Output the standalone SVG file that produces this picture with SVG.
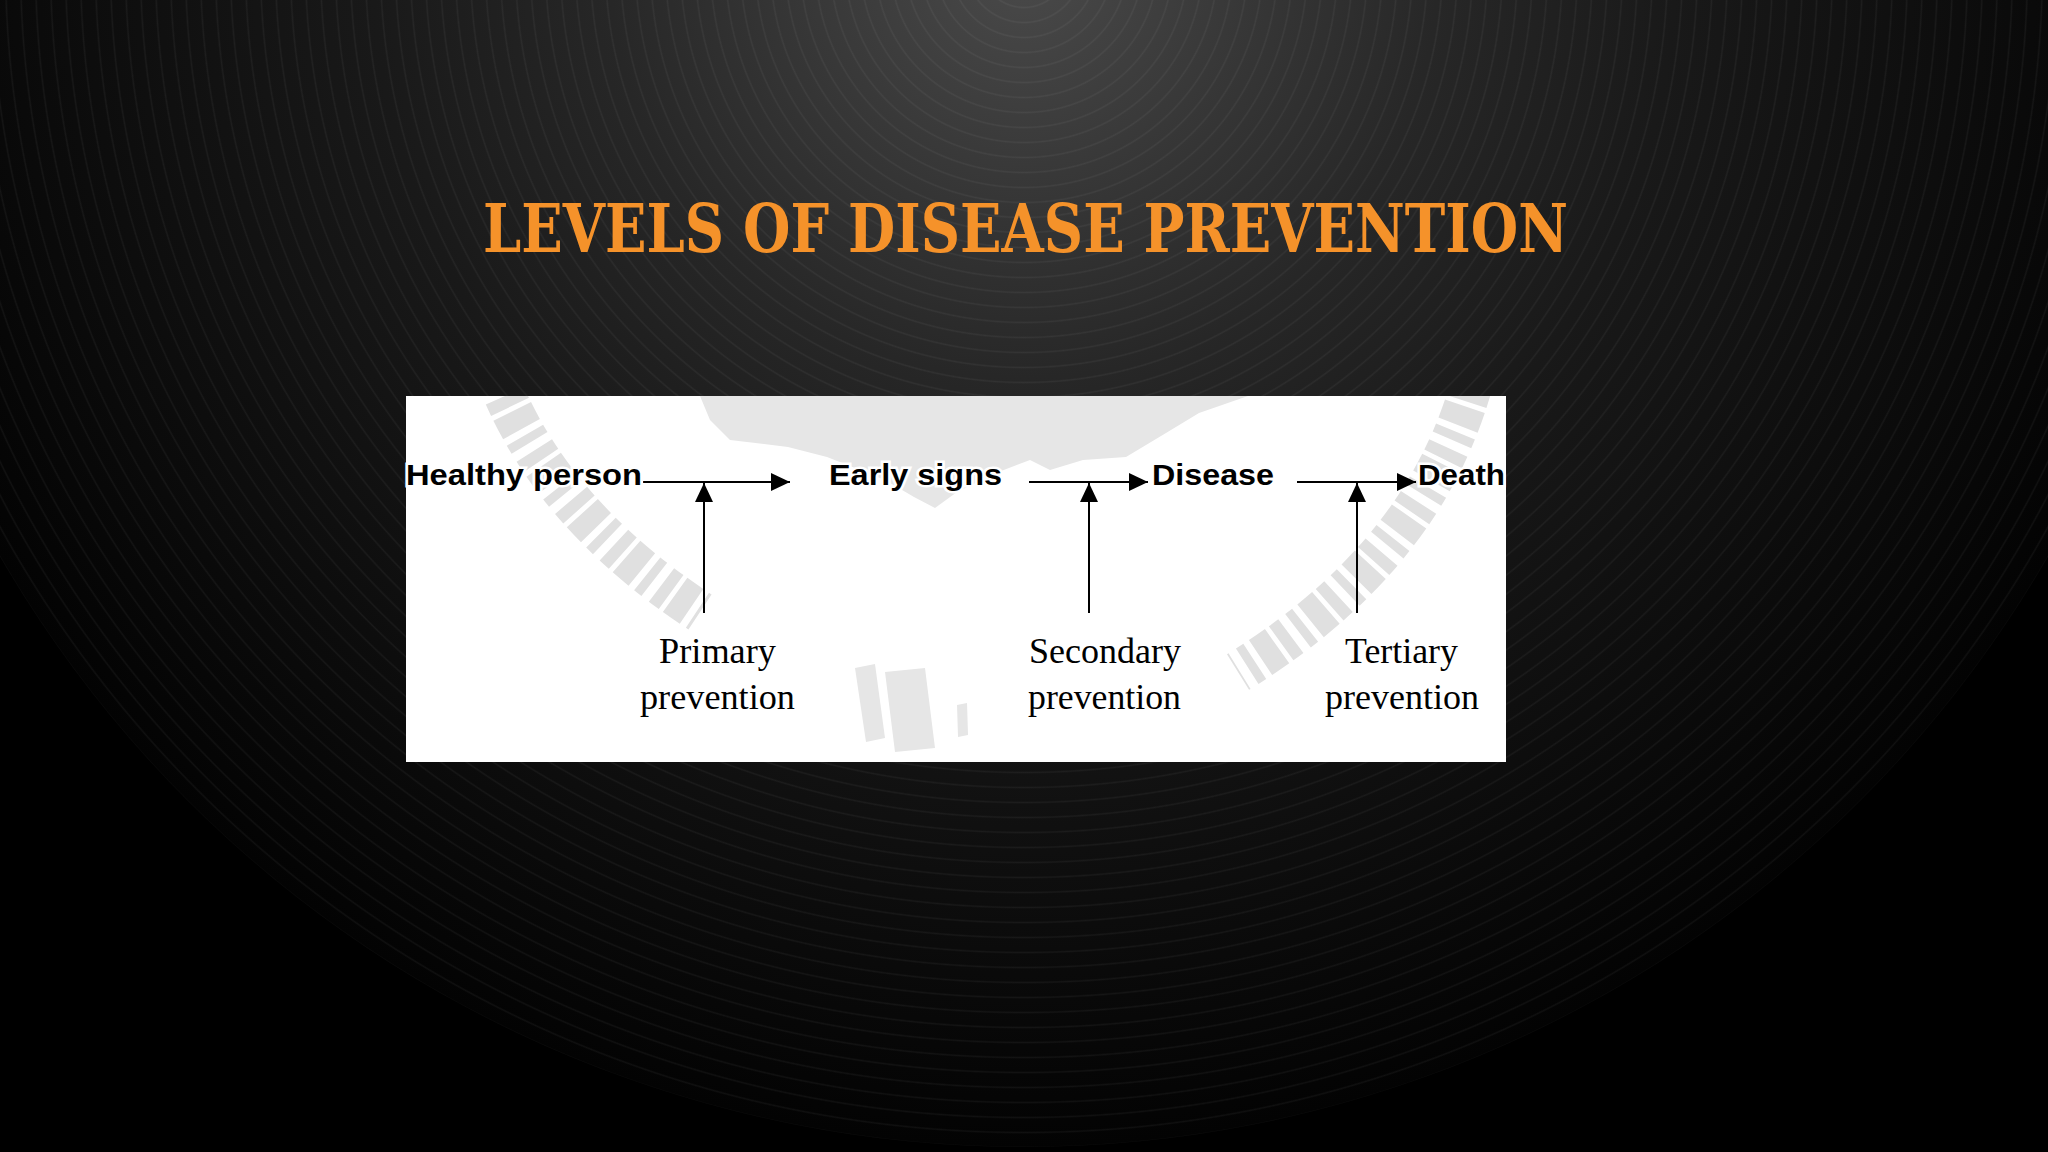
<svg xmlns="http://www.w3.org/2000/svg" width="2048" height="1152" viewBox="0 0 2048 1152">
  <defs>
    <radialGradient id="bgGrad" gradientUnits="userSpaceOnUse" cx="1024" cy="-36" r="1183">
      <stop offset="0" stop-color="#4a4a4a"/>
      <stop offset="0.15" stop-color="#3b3b3b"/>
      <stop offset="0.35" stop-color="#272727"/>
      <stop offset="0.55" stop-color="#191919"/>
      <stop offset="0.75" stop-color="#0f0f0f"/>
      <stop offset="1" stop-color="#030303"/>
    </radialGradient>
    <radialGradient id="rings" gradientUnits="userSpaceOnUse" cx="1024" cy="-36" r="15" spreadMethod="repeat">
      <stop offset="0" stop-color="#ffffff" stop-opacity="0"/>
      <stop offset="0.8" stop-color="#ffffff" stop-opacity="0"/>
      <stop offset="0.9" stop-color="#ffffff" stop-opacity="0.05"/>
      <stop offset="1" stop-color="#ffffff" stop-opacity="0"/>
    </radialGradient>
    <clipPath id="panelClip">
      <rect x="406" y="396" width="1100" height="366"/>
    </clipPath>
    <marker id="arrow" markerUnits="userSpaceOnUse" markerWidth="20" markerHeight="20" refX="19" refY="9" orient="auto" viewBox="0 0 20 18">
      <path d="M0,0 L19,9 L0,18 Z" fill="#000"/>
    </marker>
    <style>
      .title { font-family: "DejaVu Serif", "Liberation Serif", serif; font-weight: bold; font-size: 67px; fill: #F5922A; }
      .state { font-family: "Liberation Sans", Arial, sans-serif; font-weight: bold; font-size: 29px; fill: #000; stroke: #fff; stroke-width: 5px; paint-order: stroke; }
      .level { font-family: "Liberation Serif", "Times New Roman", serif; font-size: 35px; fill: #000; stroke: #fff; stroke-width: 5px; paint-order: stroke; }
      .conn { stroke: #000; stroke-width: 2; fill: none; }
      .wm { fill: #e6e6e6; }
      .wmband { fill: none; stroke: #e0e0e0; stroke-width: 42; stroke-dasharray: 12 5 20 7 9 9; }
    </style>
  </defs>

  <!-- background -->
  <rect x="0" y="0" width="2048" height="1152" fill="#000"/>
  <circle cx="1024" cy="-36" r="1183" fill="url(#bgGrad)"/>
  <circle cx="1024" cy="-36" r="1183" fill="url(#rings)"/>

  <!-- title -->
  <text id="title" class="title" x="483" y="252" textLength="1085" lengthAdjust="spacingAndGlyphs">LEVELS OF DISEASE PREVENTION</text>

  <!-- panel -->
  <rect id="panel" x="406" y="396" width="1100" height="366" fill="#ffffff"/>

  <!-- watermark remnants -->
  <g id="watermark" clip-path="url(#panelClip)">
    <path class="wm" d="M700,396 L710,420 L730,440 L788,447 L827,457 L860,470 L885,480 L914,497 L935,508 L957,492 L996,473 L1030,460 L1050,470 L1083,460 L1126,457 L1166,433 L1199,413 L1248,396 Z"/>
    <path class="wmband" d="M505,396 Q560,520 700,612"/>
    <path class="wmband" d="M1470,390 Q1420,560 1238,672"/>
    <path class="wm" d="M855,668 L875,664 L885,738 L866,742 Z"/>
    <path class="wm" d="M885,672 L925,668 L935,748 L895,752 Z"/>
    <path class="wm" d="M957,705 L967,703 L968,735 L958,737 Z"/>
  </g>

  <!-- connectors -->
  <g id="connectors">
    <line class="conn" x1="643" y1="482" x2="790" y2="482" marker-end="url(#arrow)"/>
    <line class="conn" x1="1029" y1="482" x2="1148" y2="482" marker-end="url(#arrow)"/>
    <line class="conn" x1="1297" y1="482" x2="1416" y2="482" marker-end="url(#arrow)"/>
    <line class="conn" x1="704" y1="613" x2="704" y2="483" marker-end="url(#arrow)"/>
    <line class="conn" x1="1089" y1="613" x2="1089" y2="483" marker-end="url(#arrow)"/>
    <line class="conn" x1="1357" y1="613" x2="1357" y2="483" marker-end="url(#arrow)"/>
  </g>

  <!-- nodes -->
  <g id="node-healthy">
    <text class="state" x="406" y="485" textLength="236" lengthAdjust="spacingAndGlyphs">Healthy person</text>
  </g>
  <g id="node-early">
    <text class="state" x="829" y="485" textLength="173" lengthAdjust="spacingAndGlyphs">Early signs</text>
  </g>
  <g id="node-disease">
    <text class="state" x="1152" y="485" textLength="122" lengthAdjust="spacingAndGlyphs">Disease</text>
  </g>
  <g id="node-death">
    <text class="state" x="1418" y="485" textLength="87" lengthAdjust="spacingAndGlyphs">Death</text>
  </g>
  <g id="node-primary">
    <text class="level" x="659" y="663" textLength="117" lengthAdjust="spacingAndGlyphs">Primary</text>
    <text class="level" x="640" y="709" textLength="155" lengthAdjust="spacingAndGlyphs">prevention</text>
  </g>
  <g id="node-secondary">
    <text class="level" x="1029" y="663" textLength="152" lengthAdjust="spacingAndGlyphs">Secondary</text>
    <text class="level" x="1028" y="709" textLength="153" lengthAdjust="spacingAndGlyphs">prevention</text>
  </g>
  <g id="node-tertiary">
    <text class="level" x="1345" y="663" textLength="113" lengthAdjust="spacingAndGlyphs">Tertiary</text>
    <text class="level" x="1325" y="709" textLength="154" lengthAdjust="spacingAndGlyphs">prevention</text>
  </g>
</svg>
